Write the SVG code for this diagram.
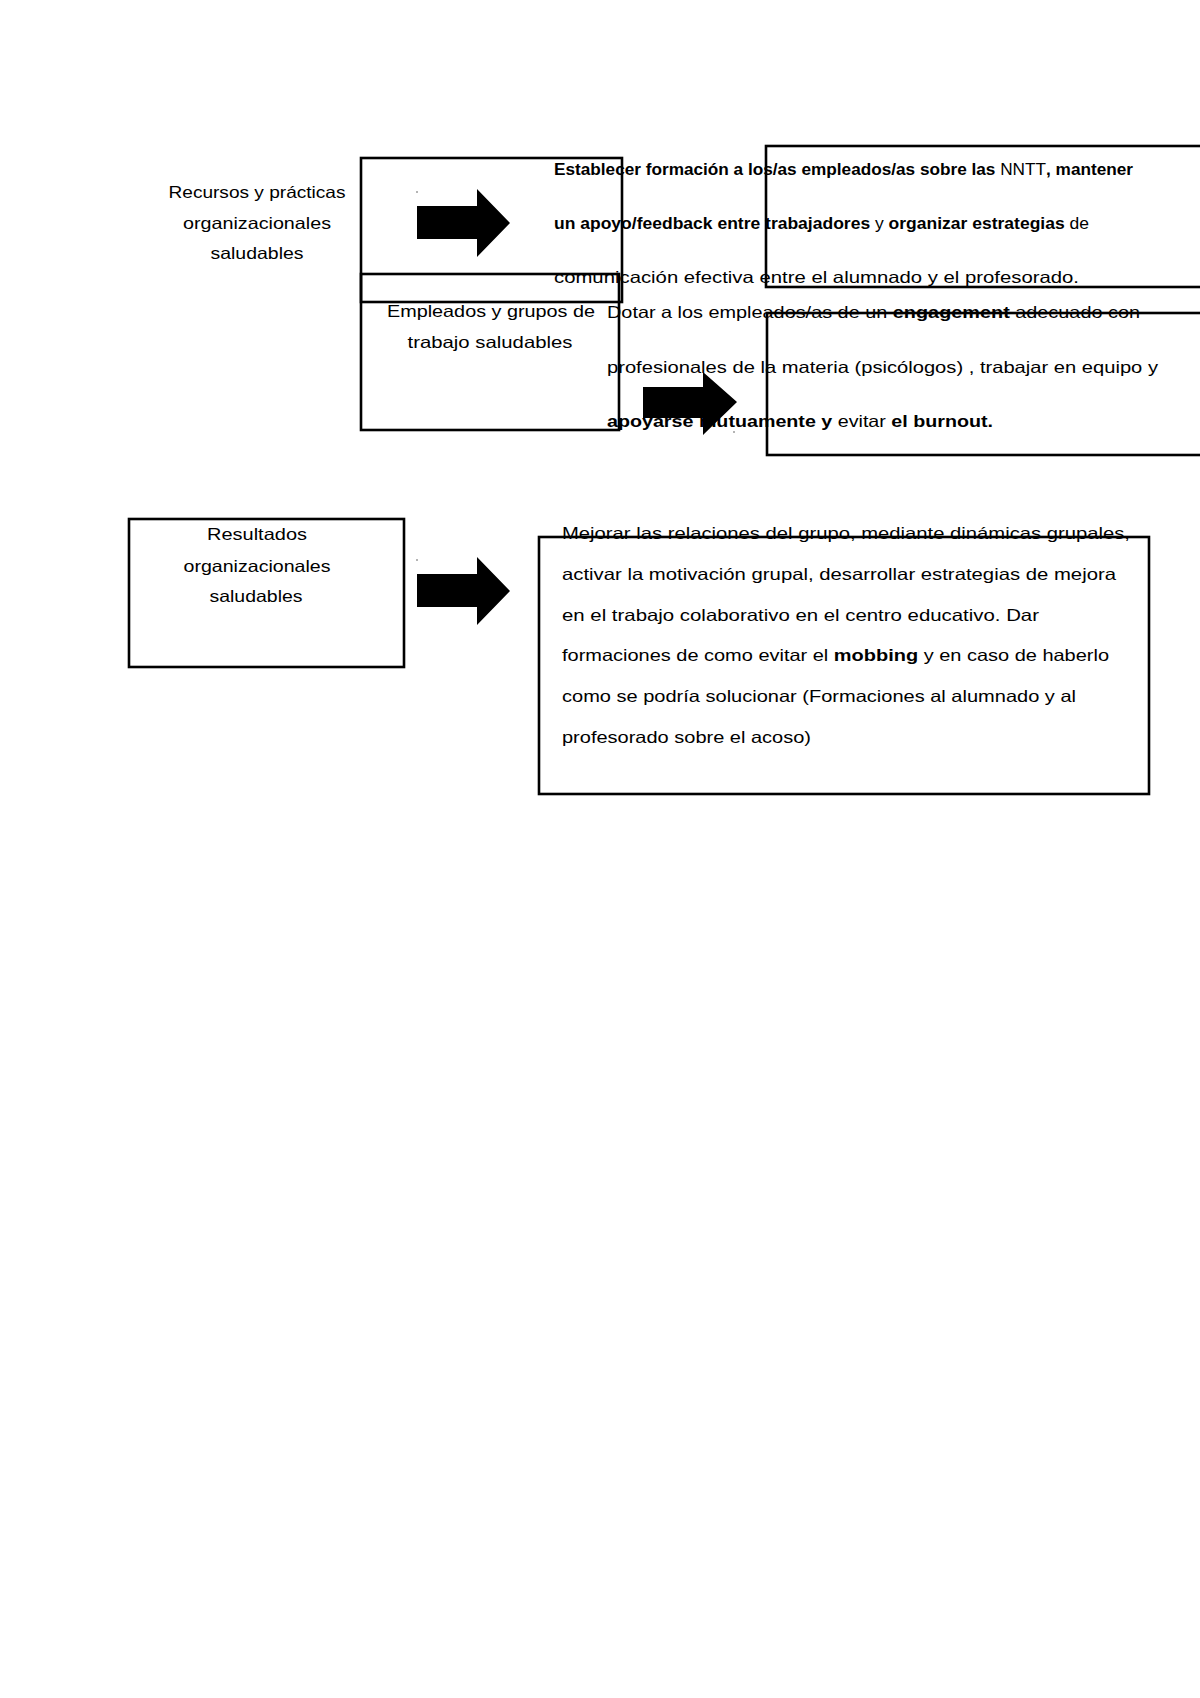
<svg xmlns="http://www.w3.org/2000/svg" width="1200" height="1698" viewBox="0 0 1200 1698">
<style>
.box{fill:none;stroke:#000;stroke-width:2.6}
.t{font-family:"Liberation Sans",Arial,sans-serif;font-size:16.5px;fill:#000}
.c{text-anchor:middle}
.b{font-weight:bold}
.arrow{fill:#000}
</style>
<rect width="1200" height="1698" fill="#fff"/>
<g id="recursos">
<text class="t c" x="257" y="198" textLength="177" lengthAdjust="spacingAndGlyphs">Recursos y prácticas</text>
<text class="t c" x="257" y="229" textLength="148" lengthAdjust="spacingAndGlyphs">organizacionales</text>
<text class="t c" x="257" y="259" textLength="93" lengthAdjust="spacingAndGlyphs">saludables</text>
</g>
<g id="box-top">
<rect class="box" x="361" y="158" width="261" height="144"/>
</g>
<g id="empleados">
<rect class="box" x="361" y="274" width="258" height="156"/>
<text class="t c" x="491" y="317" textLength="208" lengthAdjust="spacingAndGlyphs">Empleados y grupos de</text>
<text class="t c" x="490" y="348" textLength="165" lengthAdjust="spacingAndGlyphs">trabajo saludables</text>
</g>
<g id="texto-formacion">
<rect class="box" x="766" y="146" width="460" height="141"/>
<text class="t" x="554" y="175" textLength="579" lengthAdjust="spacingAndGlyphs"><tspan class="b">Establecer formación a los/as empleados/as sobre las </tspan>NNTT<tspan class="b">, mantener</tspan></text>
<text class="t" x="554" y="229" textLength="535" lengthAdjust="spacingAndGlyphs"><tspan class="b">un apoyo/feedback entre trabajadores</tspan> y <tspan class="b">organizar estrategias</tspan> de</text>
<text class="t" x="554" y="283" textLength="525" lengthAdjust="spacingAndGlyphs">comunicación efectiva entre el alumnado y el profesorado.</text>
</g>
<g id="texto-engagement">
<rect class="box" x="767" y="313" width="460" height="142"/>
<text class="t" x="607" y="318" textLength="533" lengthAdjust="spacingAndGlyphs">Dotar a los empleados/as de un <tspan class="b">engagement</tspan> adecuado con</text>
<text class="t" x="607" y="373" textLength="551" lengthAdjust="spacingAndGlyphs">profesionales de la materia (psicólogos) , trabajar en equipo y</text>
<text class="t" x="607" y="427" textLength="386" lengthAdjust="spacingAndGlyphs"><tspan class="b">apoyarse mutuamente y</tspan> evitar <tspan class="b">el burnout.</tspan></text>
</g>
<g id="resultados">
<rect class="box" x="129" y="519" width="275" height="148"/>
<text class="t c" x="257" y="540" textLength="100" lengthAdjust="spacingAndGlyphs">Resultados</text>
<text class="t c" x="257" y="572" textLength="147" lengthAdjust="spacingAndGlyphs">organizacionales</text>
<text class="t c" x="256" y="602" textLength="93" lengthAdjust="spacingAndGlyphs">saludables</text>
</g>
<g id="texto-relaciones">
<rect class="box" x="539" y="537" width="610" height="257"/>
<text class="t" x="562" y="539" textLength="568" lengthAdjust="spacingAndGlyphs">Mejorar las relaciones del grupo, mediante dinámicas grupales,</text>
<text class="t" x="562" y="580" textLength="554" lengthAdjust="spacingAndGlyphs">activar la motivación grupal, desarrollar estrategias de mejora</text>
<text class="t" x="562" y="621" textLength="477" lengthAdjust="spacingAndGlyphs">en el trabajo colaborativo en el centro educativo. Dar</text>
<text class="t" x="562" y="661" textLength="547" lengthAdjust="spacingAndGlyphs">formaciones de como evitar el <tspan class="b">mobbing</tspan> y en caso de haberlo</text>
<text class="t" x="562" y="702" textLength="514" lengthAdjust="spacingAndGlyphs">como se podría solucionar (Formaciones al alumnado y al</text>
<text class="t" x="562" y="743" textLength="249" lengthAdjust="spacingAndGlyphs">profesorado sobre el acoso)</text>
</g>
<g id="connectors">
<polygon class="arrow" points="417,206 477,206 477,189 510,223 477,257 477,239 417,239"/>
<polygon class="arrow" points="643,387 703,387 703,372 737,402 703,435 703,418 643,418"/>
<polygon class="arrow" points="417,574 477,574 477,557 510,591 477,625 477,607 417,607"/>
<circle cx="417" cy="192" r="0.8" fill="#555"/>
<circle cx="417" cy="560" r="0.8" fill="#555"/>
<circle cx="734" cy="432" r="0.8" fill="#555"/>
</g>
</svg>
